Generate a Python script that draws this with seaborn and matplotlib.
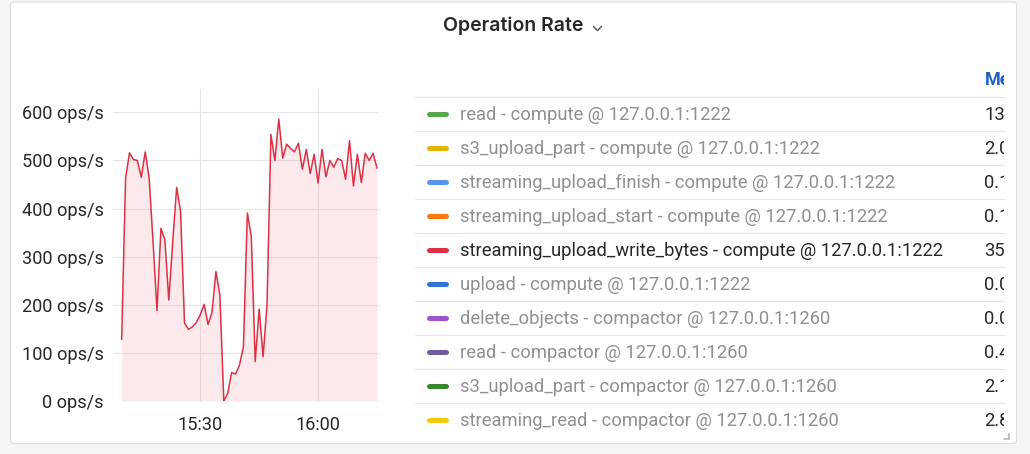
import numpy as np
import pandas as pd
import matplotlib
matplotlib.use("Agg")
import matplotlib.pyplot as plt
import matplotlib.dates as mdates
from matplotlib.patches import FancyBboxPatch
from matplotlib.lines import Line2D
from matplotlib.transforms import Bbox, TransformedBbox
import seaborn as sns

# streaming_upload_write_bytes rate (ops/s), one sample per minute from 15:10
rate = [128, 463, 516, 502, 500, 465, 518, 463, 330, 188,
        359, 335, 210, 330, 444, 394, 162, 149, 154, 163,
        179, 201, 159, 184, 269, 220, 0, 16, 59, 56,
        75, 113, 391, 342, 82, 191, 92, 200, 554, 500,
        586, 505, 534, 525, 518, 536, 482, 523, 473, 513,
        453, 523, 466, 500, 486, 504, 500, 461, 541, 447,
        513, 454, 515, 500, 515, 484]
start_time = "2023-06-01 15:10"
y_ticks = [0, 100, 200, 300, 400, 500, 600]
x_tick_times = ["2023-06-01 15:30", "2023-06-01 16:00"]

series_names = [
    "read - compute @ 127.0.0.1:1222",
    "s3_upload_part - compute @ 127.0.0.1:1222",
    "streaming_upload_finish - compute @ 127.0.0.1:1222",
    "streaming_upload_start - compute @ 127.0.0.1:1222",
    "streaming_upload_write_bytes - compute @ 127.0.0.1:1222",
    "upload - compute @ 127.0.0.1:1222",
    "delete_objects - compactor @ 127.0.0.1:1260",
    "read - compactor @ 127.0.0.1:1260",
    "s3_upload_part - compactor @ 127.0.0.1:1260",
    "streaming_read - compactor @ 127.0.0.1:1260",
]
series_colors = ["#56a64b", "#e0b400", "#5794f2", "#ff780a", "#e02f44",
                 "#3274d9", "#a352cc", "#705da0", "#37872d", "#f2cc0c"]
mean_visible = ["13", "2.0", "0.1", "0.1", "35", "0.0", "0.0", "0.4", "2.1", "2.8"]
shown = 4  # the only series drawn in the graph

W, H = 1030, 454
sns.set_theme(style="white")
plt.rcParams["font.family"] = ["Roboto", "DejaVu Sans"]

fig = plt.figure(figsize=(W / 100, H / 100), dpi=100)
fig.patch.set_facecolor("#f4f5f5")

# background layer in pixel coords for the panel, title and table
bg = fig.add_axes([0, 0, 1, 1])
bg.set_xlim(0, W)
bg.set_ylim(H, 0)
bg.axis("off")
bg.add_patch(FancyBboxPatch((10.5, 2), 1006, 441.5, boxstyle="round,pad=0,rounding_size=3",
                            fc="white", ec="#dcdee0", lw=0.8))
bg.text(513, 26, "Operation Rate", ha="center", va="center", fontsize=14,
        fontweight="semibold", color="#24292e", family=["Inter", "DejaVu Sans"])
bg.add_line(Line2D([593.5, 597.5, 601.5], [26.5, 30.5, 26.5], color="#5b5f66", lw=1.1))

# table legend, cut off at the right edge like the panel
clip = TransformedBbox(Bbox([[0, 0], [1003.5, H]]), bg.transData)
hdr = bg.text(985, 80, "Mean", ha="left", va="center", fontsize=13,
              fontweight="bold", color="#1f60c4", clip_on=True)
hdr.set_clip_box(clip)
for i, (name, col, mv) in enumerate(zip(series_names, series_colors, mean_visible)):
    yc = 114 + 34 * i
    bg.add_line(Line2D([415, 1003.5], [yc - 17, yc - 17], color="#e4e6e8", lw=0.8))
    bg.add_line(Line2D([429, 446], [yc, yc], color=col, lw=3.6, solid_capstyle="round"))
    tc = "#24292e" if i == shown else "#8e9094"
    bg.text(460, yc + 0.5, name, ha="left", va="center", fontsize=13.2, color=tc)
    t = bg.text(984, yc + 0.5, mv, ha="left", va="center", fontsize=13.2, color="#24292e",
                clip_on=True)
    t.set_clip_box(clip)
bg.add_line(Line2D([1009, 1009, 1004], [434, 439, 439], color="#b0b3b8", lw=1.2))

# the graph
df = pd.DataFrame({"time": pd.date_range(start_time, periods=len(rate), freq="min"),
                   "rate": rate})
ax = fig.add_axes([113 / W, 53 / H, 265 / W, 311.7 / H])
ax.set_facecolor("none")
sns.lineplot(data=df, x="time", y="rate", color=series_colors[shown], lw=1.1, ax=ax)
ax.fill_between(df["time"], 0, df["rate"], color=series_colors[shown], alpha=0.1, lw=0)

t0 = df["time"].iloc[0]
t1 = df["time"].iloc[-1]
ax.set_xlim(t0 - pd.Timedelta(minutes=2.2), t1 + pd.Timedelta(minutes=0.25))
ax.set_ylim(0, 648)
ax.set_yticks(y_ticks)
ax.set_yticklabels([f"{v} ops/s" for v in y_ticks])
ax.set_xticks(pd.to_datetime(x_tick_times))
ax.xaxis.set_major_formatter(mdates.DateFormatter("%H:%M"))
ax.grid(True, color="#e6e6e6", lw=0.8)
ax.set_axisbelow(True)
for s in ax.spines.values():
    s.set_visible(False)
ax.tick_params(axis="y", length=0, pad=6.5, labelsize=13.1, labelcolor="#24292e")
ax.tick_params(axis="x", length=0, pad=10.5, labelsize=13.1, labelcolor="#24292e")
ax.set_xlabel("")
ax.set_ylabel("")

fig.savefig("out.png", dpi=100)
